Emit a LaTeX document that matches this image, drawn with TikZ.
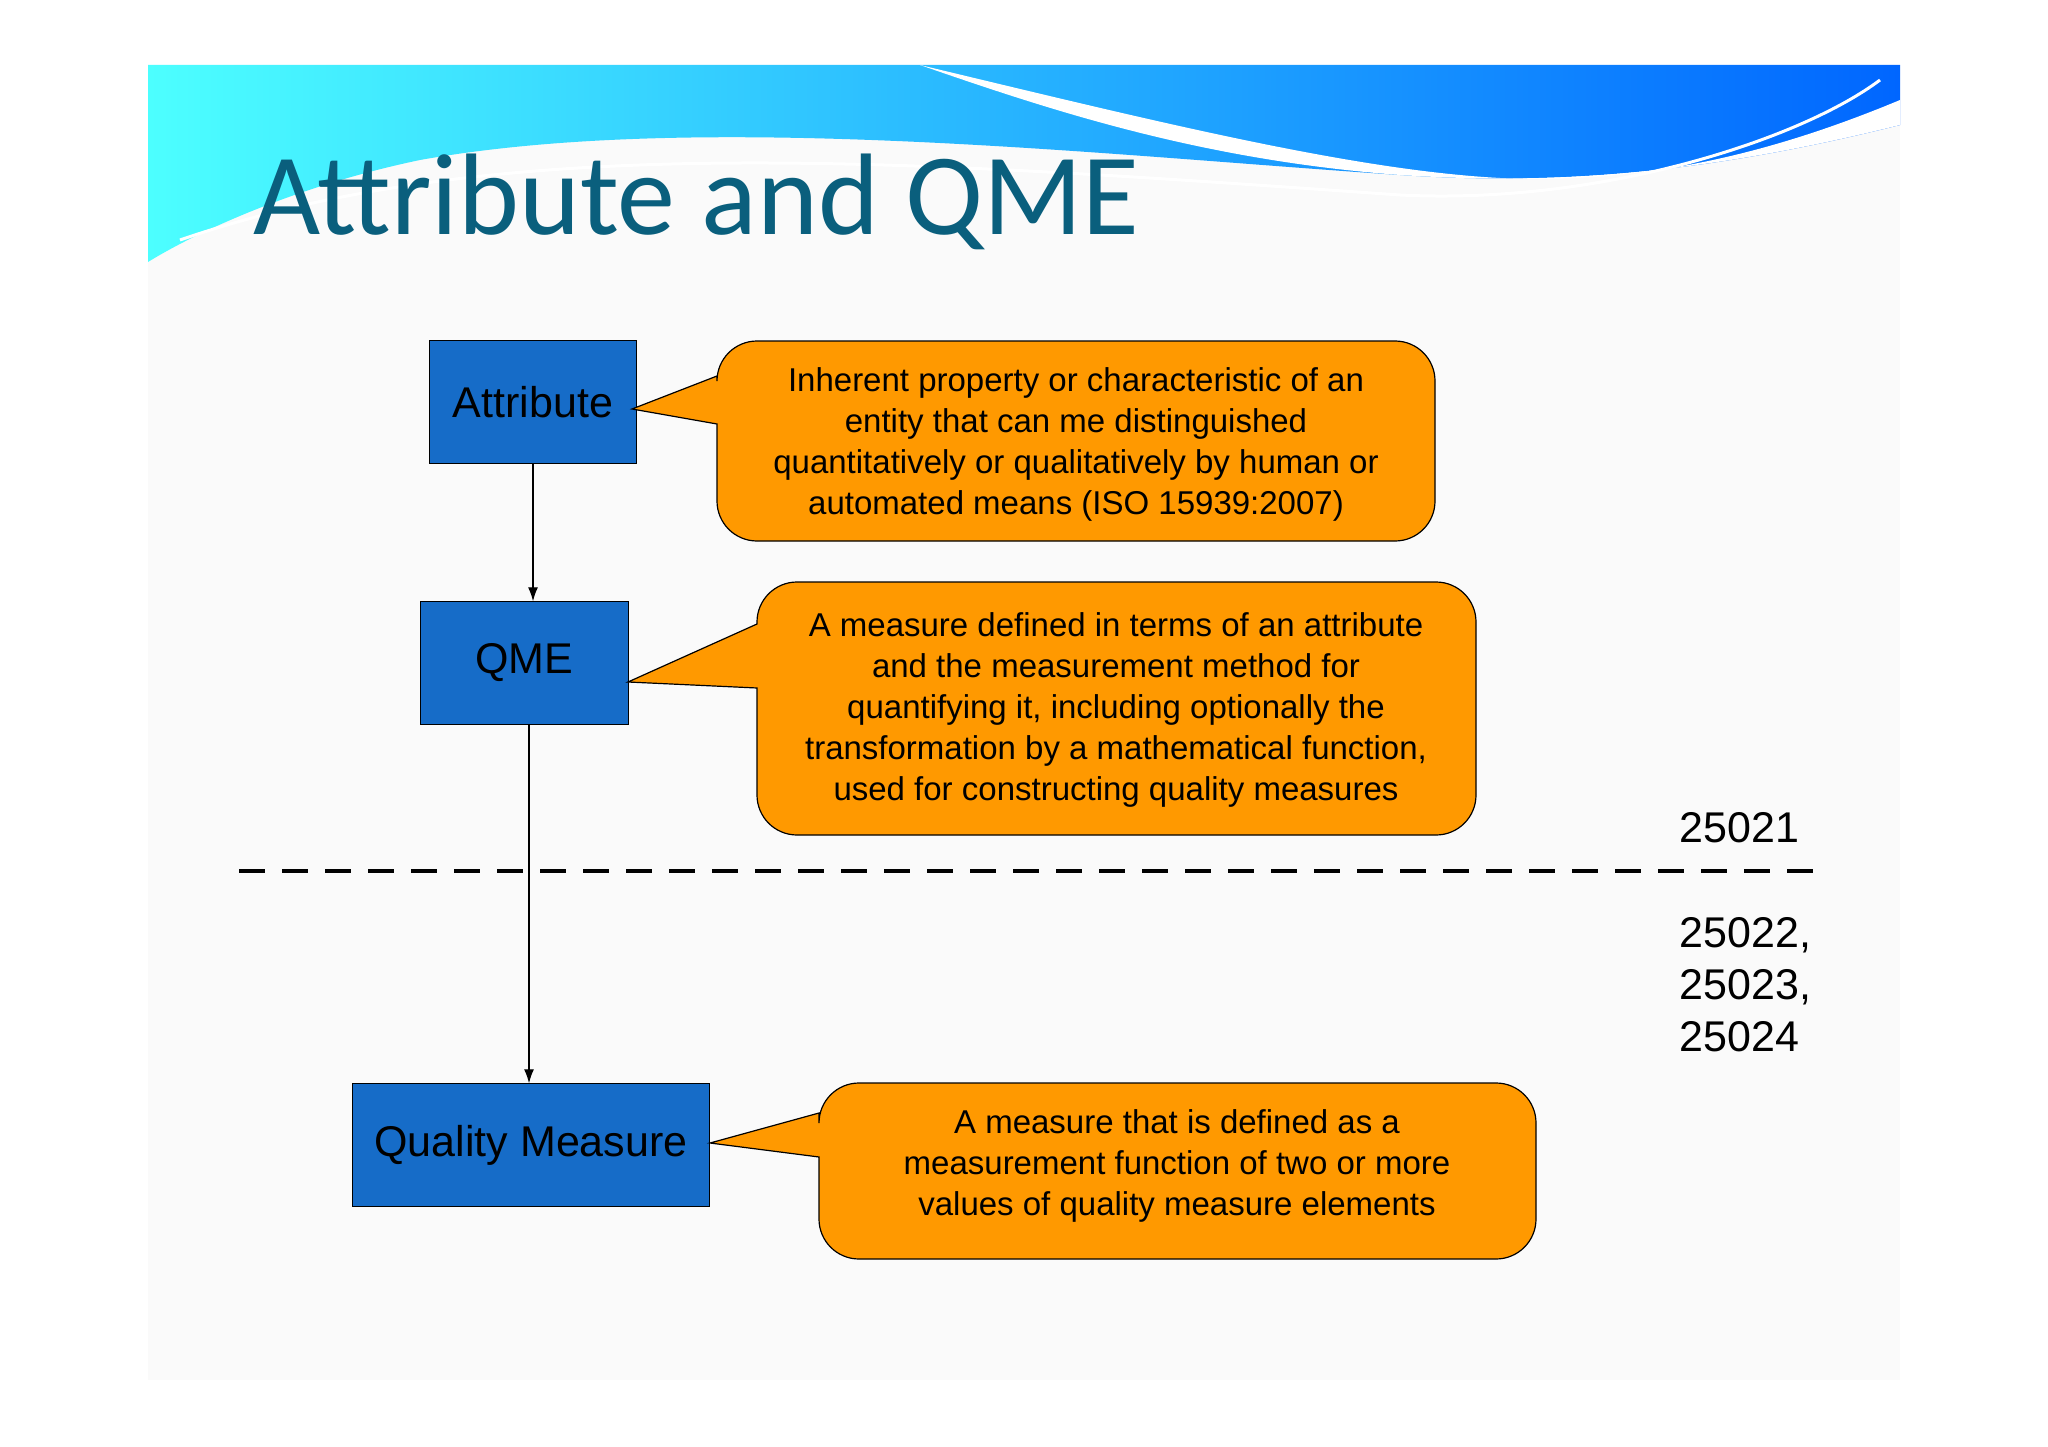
\documentclass[tikz,border=0pt]{standalone}
\usepackage{fontspec}
\setmainfont{Liberation Sans}
\newfontfamily\ttlfont{Carlito}
\usetikzlibrary{arrows.meta}
\definecolor{bx}{RGB}{22,108,200}
\definecolor{orng}{RGB}{255,153,0}
\definecolor{ttl}{RGB}{10,95,125}
\begin{document}
\begin{tikzpicture}[x=1pt,y=-1pt,
  box/.style={draw=black,fill=bx,minimum height=123,font=\fontsize{43}{48}\selectfont,inner sep=0},
  ctext/.style={align=center,font=\fontsize{33}{41}\selectfont},
  call/.style={draw=black,fill=orng,line width=1.2},
  arr/.style={-{Latex[length=14,width=10]},line width=1.3}]
\useasboundingbox (0,0) rectangle (2048,1447);
\fill[white] (0,0) rectangle (2048,1447);
\fill[gray!4] (148,65) rectangle (1900,1380);
% banner
\shade[left color=cyan!70!white,right color=blue!60!cyan] (148,65) -- (1900,65) -- (1900,125) .. controls (1700,175) and (1550,185) .. (1400,175) .. controls (1100,155) and (700,110) .. (420,160) .. controls (300,185) and (200,230) .. (148,262) -- cycle;
\fill[white] (920,65) .. controls (1150,120) and (1350,170) .. (1500,178) .. controls (1650,185) and (1780,150) .. (1900,100) -- (1900,125) .. controls (1700,175) and (1550,185) .. (1400,175) .. controls (1200,160) and (1050,110) .. (920,65) -- cycle;
\draw[white,line width=3] (180,240) .. controls (500,130) and (900,160) .. (1400,195) .. controls (1600,205) and (1800,140) .. (1880,80);
\node[anchor=west,text=ttl,font=\ttlfont\fontsize{116}{120}\selectfont] (title) at (250,202) {Attribute and QME};
% boxes
\node[box,minimum width=207] (att) at (533,402) {Attribute};
\node[box,minimum width=208] (qme) at (524,663) {QME};
\node[box,minimum width=357] (qm) at (531,1145) {Quality Measure};
\draw[arr] (att.south -| 533,0) -- (qme.north -| 533,0);
\draw[arr] (qme.south -| 529,0) -- (qm.north -| 529,0);
% callouts
\draw[call,rounded corners=40] (717,341) -- (1435,341) -- (1435,541) -- (717,541) [sharp corners]-- (717,424) -- (632,409) -- (717,376) [rounded corners=40]-- cycle;
\node[ctext] (c1) at (1076,444) {Inherent property or characteristic of an\\entity that can me distinguished\\quantitatively or qualitatively by human or\\automated means (ISO 15939:2007)};
\draw[call,rounded corners=40] (757,582) -- (1476,582) -- (1476,835) -- (757,835) [sharp corners]-- (757,688) -- (628,682) -- (757,624) [rounded corners=40]-- cycle;
\node[ctext] (c2) at (1116,710) {A measure defined in terms of an attribute\\and the measurement method for\\quantifying it, including optionally the\\transformation by a mathematical function,\\used for constructing quality measures};
\draw[call,rounded corners=40] (819,1083) -- (1536,1083) -- (1536,1259) -- (819,1259) [sharp corners]-- (819,1157) -- (710,1143) -- (819,1113) [rounded corners=40]-- cycle;
\node[ctext] (c3) at (1177,1166) {A measure that is defined as a\\measurement function of two or more\\values of quality measure elements};
% dashed
\coordinate (d1) at (239,871); \coordinate (d2) at (1826,871);
\draw[line width=4,dash pattern=on 26 off 17] (d1) -- (d2);
\node[anchor=west,font=\fontsize{43}{52}\selectfont] (s1) at (1676,828) {25021};
\node[anchor=north west,align=left,font=\fontsize{43}{52}\selectfont] (s2) at (1676,914) {25022,\\25023,\\25024};
\end{tikzpicture}
\end{document}
